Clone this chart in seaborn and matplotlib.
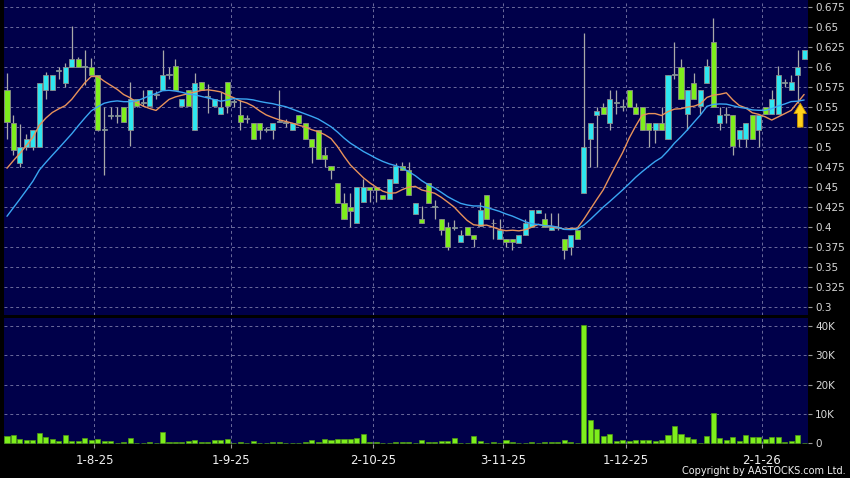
import numpy as np
import pandas as pd
import matplotlib
matplotlib.use("Agg")
import matplotlib.pyplot as plt
import seaborn as sns

# daily candles (oldest first)
open_ = [0.571, 0.530, 0.480, 0.500, 0.500, 0.500, 0.571, 0.571, 0.595, 0.580,
         0.600, 0.610, 0.600, 0.600, 0.590, 0.521, 0.539, 0.539, 0.550, 0.521,
         0.560, 0.555, 0.551, 0.565, 0.571, 0.590, 0.601, 0.551, 0.571, 0.521,
         0.581, 0.562, 0.551, 0.541, 0.581, 0.556, 0.540, 0.535, 0.530, 0.530,
         0.521, 0.521, 0.531, 0.530, 0.521, 0.540, 0.530, 0.510, 0.521, 0.490,
         0.476, 0.455, 0.430, 0.425, 0.405, 0.431, 0.450, 0.450, 0.440, 0.435,
         0.455, 0.476, 0.471, 0.416, 0.410, 0.455, 0.425, 0.410, 0.400, 0.398,
         0.381, 0.400, 0.390, 0.401, 0.440, 0.404, 0.385, 0.385, 0.385, 0.380,
         0.390, 0.400, 0.417, 0.410, 0.396, 0.398, 0.385, 0.375, 0.396, 0.442,
         0.510, 0.540, 0.550, 0.530, 0.555, 0.550, 0.571, 0.550, 0.550, 0.530,
         0.521, 0.530, 0.510, 0.590, 0.600, 0.541, 0.580, 0.551, 0.580, 0.631,
         0.530, 0.540, 0.540, 0.510, 0.510, 0.540, 0.521, 0.550, 0.541, 0.541,
         0.580, 0.571, 0.590, 0.610]
high = [0.592, 0.540, 0.529, 0.516, 0.521, 0.580, 0.593, 0.590, 0.600, 0.605,
        0.651, 0.612, 0.621, 0.611, 0.590, 0.550, 0.550, 0.550, 0.550, 0.581,
        0.560, 0.571, 0.571, 0.570, 0.621, 0.600, 0.610, 0.560, 0.571, 0.592,
        0.581, 0.579, 0.560, 0.569, 0.581, 0.560, 0.559, 0.540, 0.530, 0.530,
        0.525, 0.530, 0.571, 0.535, 0.530, 0.540, 0.530, 0.510, 0.521, 0.500,
        0.476, 0.455, 0.442, 0.442, 0.450, 0.460, 0.450, 0.450, 0.440, 0.460,
        0.480, 0.481, 0.481, 0.430, 0.426, 0.455, 0.433, 0.410, 0.406, 0.408,
        0.396, 0.400, 0.390, 0.431, 0.440, 0.410, 0.410, 0.385, 0.385, 0.390,
        0.410, 0.421, 0.421, 0.417, 0.417, 0.417, 0.385, 0.390, 0.396, 0.642,
        0.530, 0.550, 0.555, 0.571, 0.571, 0.560, 0.571, 0.555, 0.550, 0.530,
        0.530, 0.550, 0.590, 0.631, 0.610, 0.571, 0.592, 0.571, 0.610, 0.661,
        0.550, 0.550, 0.540, 0.521, 0.530, 0.540, 0.540, 0.550, 0.571, 0.601,
        0.585, 0.590, 0.621, 0.621]
low = [0.510, 0.490, 0.475, 0.496, 0.496, 0.500, 0.560, 0.571, 0.585, 0.575,
       0.600, 0.600, 0.577, 0.590, 0.520, 0.465, 0.535, 0.530, 0.531, 0.501,
       0.550, 0.551, 0.551, 0.560, 0.571, 0.585, 0.571, 0.550, 0.551, 0.521,
       0.571, 0.542, 0.550, 0.541, 0.542, 0.550, 0.521, 0.530, 0.510, 0.510,
       0.518, 0.510, 0.531, 0.525, 0.521, 0.530, 0.510, 0.480, 0.485, 0.475,
       0.460, 0.430, 0.410, 0.400, 0.405, 0.431, 0.431, 0.431, 0.435, 0.435,
       0.455, 0.471, 0.440, 0.416, 0.405, 0.430, 0.410, 0.390, 0.371, 0.396,
       0.381, 0.390, 0.375, 0.401, 0.410, 0.385, 0.385, 0.375, 0.371, 0.380,
       0.390, 0.400, 0.417, 0.400, 0.396, 0.396, 0.360, 0.365, 0.385, 0.442,
       0.475, 0.475, 0.541, 0.521, 0.541, 0.545, 0.550, 0.541, 0.521, 0.500,
       0.505, 0.521, 0.510, 0.585, 0.560, 0.521, 0.560, 0.541, 0.580, 0.550,
       0.521, 0.530, 0.490, 0.500, 0.500, 0.510, 0.500, 0.541, 0.541, 0.541,
       0.575, 0.571, 0.555, 0.610]
close = [0.531, 0.496, 0.500, 0.510, 0.521, 0.580, 0.590, 0.590, 0.596, 0.600,
         0.610, 0.600, 0.601, 0.590, 0.521, 0.521, 0.539, 0.539, 0.531, 0.560,
         0.551, 0.555, 0.571, 0.565, 0.590, 0.590, 0.571, 0.560, 0.551, 0.580,
         0.571, 0.562, 0.560, 0.550, 0.551, 0.556, 0.531, 0.535, 0.510, 0.521,
         0.521, 0.530, 0.531, 0.530, 0.530, 0.530, 0.510, 0.500, 0.485, 0.485,
         0.471, 0.430, 0.410, 0.420, 0.450, 0.450, 0.446, 0.446, 0.435, 0.460,
         0.476, 0.471, 0.440, 0.430, 0.405, 0.430, 0.425, 0.396, 0.375, 0.398,
         0.390, 0.390, 0.385, 0.421, 0.410, 0.404, 0.396, 0.381, 0.381, 0.390,
         0.405, 0.421, 0.421, 0.400, 0.400, 0.398, 0.371, 0.390, 0.385, 0.500,
         0.530, 0.545, 0.541, 0.560, 0.555, 0.550, 0.550, 0.541, 0.521, 0.521,
         0.530, 0.521, 0.590, 0.591, 0.560, 0.571, 0.560, 0.571, 0.601, 0.550,
         0.540, 0.540, 0.501, 0.521, 0.530, 0.510, 0.540, 0.541, 0.560, 0.590,
         0.580, 0.581, 0.600, 0.621]
volume = [2500, 2700, 1500, 1000, 1000, 3600, 2200, 1400, 800, 2700,
          800, 700, 1700, 1100, 1500, 700, 700, 100, 300, 1700,
          100, 200, 500, 200, 3900, 400, 400, 400, 700, 1000,
          300, 300, 1000, 1000, 1500, 100, 400, 100, 700, 100,
          100, 400, 400, 100, 100, 100, 300, 1000, 400, 1500,
          1100, 1500, 1500, 1500, 1800, 3300, 400, 400, 100, 100,
          500, 400, 300, 100, 1100, 400, 400, 900, 900, 1700,
          100, 100, 2500, 900, 100, 400, 100, 1100, 400, 100,
          200, 400, 100, 400, 400, 400, 1100, 400, 100, 40300,
          8000, 4900, 2500, 3300, 800, 1200, 800, 1000, 1000, 1000,
          800, 1200, 2900, 6000, 3300, 2100, 1500, 100, 2500, 10200,
          1800, 1200, 2300, 700, 3000, 2200, 2200, 1400, 2200, 2200,
          300, 800, 3000, 0]
# closes of the sessions just before the window (only used to start the averages)
warmup_close = [0.280, 0.285, 0.290, 0.295, 0.300, 0.400, 0.410, 0.420, 0.420, 0.430,
                0.400, 0.410, 0.410, 0.420, 0.430, 0.500, 0.520, 0.550, 0.560]

# first session of each month and its label
month_start = [14, 35, 57, 77, 96, 117]
month_labels = ["1-8-25", "1-9-25", "2-10-25", "3-11-25", "1-12-25", "2-1-26"]
price_ticks = [0.3, 0.325, 0.35, 0.375, 0.4, 0.425, 0.45, 0.475, 0.5, 0.525,
               0.55, 0.575, 0.6, 0.625, 0.65, 0.675]
price_labels = ["0.3", "0.325", "0.35", "0.375", "0.4", "0.425", "0.45", "0.475",
                "0.5", "0.525", "0.55", "0.575", "0.6", "0.625", "0.65", "0.675"]
vol_ticks = [0, 10000, 20000, 30000, 40000]
vol_labels = ["0", "10K", "20K", "30K", "40K"]

NAVY = "#00004a"
UP = "#2ee6f0"
DOWN = "#7eee1c"
GRID = "#6b6b9c"
TXT = "#d8d8d8"

df = pd.DataFrame({"open": open_, "high": high, "low": low,
                   "close": close, "volume": volume})
df["idx"] = np.arange(len(df))
allc = pd.Series(warmup_close + close)
df["ma10"] = allc.rolling(10).mean().iloc[len(warmup_close):].values
df["ma20"] = allc.rolling(20).mean().iloc[len(warmup_close):].values

sns.set_style("dark")
plt.rcParams["font.family"] = ["DejaVu Sans"]

fig = plt.figure(figsize=(8.5, 4.78), dpi=100, facecolor="black")
ax = fig.add_axes([4 / 850, 1 - 315 / 478, 804 / 850, 315 / 478])
axv = fig.add_axes([4 / 850, 1 - 444 / 478, 804 / 850, 125.7 / 478])

for a in (ax, axv):
    a.set_facecolor(NAVY)
    for s in a.spines.values():
        s.set_visible(False)
    for m in month_start:
        a.axvline(m - 0.5, color=GRID, lw=0.7, ls=(0, (3, 3)), zorder=0)

for t in price_ticks:
    ax.axhline(t, color=GRID, lw=0.7, ls=(0, (3, 3)), zorder=0)
for t in vol_ticks[1:]:
    axv.axhline(t, color=GRID, lw=0.7, ls=(0, (3, 3)), zorder=0)

# candles
up = df["close"] >= df["open"]
colors = np.where(up, UP, DOWN)
body_lo = df[["open", "close"]].min(axis=1)
body_h = (df["close"] - df["open"]).abs().clip(lower=0.0012)
ax.vlines(df["idx"], df["low"], df["high"], color="#a8a8a8", lw=0.9, zorder=2)
ax.bar(df["idx"], body_h, bottom=body_lo, width=0.78, color=colors,
       edgecolor="#8c8c8c", linewidth=0.6, zorder=3)

# moving averages
sns.lineplot(data=df, x="idx", y="ma10", ax=ax, color="#e8925a", lw=1.0, zorder=4)
sns.lineplot(data=df, x="idx", y="ma20", ax=ax, color="#3aa6f2", lw=1.0, zorder=4)

ax.annotate("", xy=(122.4, 0.558), xytext=(122.4, 0.521),
            arrowprops=dict(arrowstyle="simple,head_width=0.9,head_length=0.75,tail_width=0.4",
                            fc="#ffd21a", ec="#c89000", lw=0.6), zorder=6)

# volume
sns.barplot(data=df, x="idx", y="volume", native_scale=True, ax=axv,
            color=DOWN, saturation=1, width=0.78, edgecolor="#4f9a12",
            linewidth=0.5, zorder=3)

ax.set_xlim(-0.46, 123.6)
axv.set_xlim(-0.46, 123.6)
ax.set_ylim(0.2896, 0.6834)
axv.set_ylim(-240, 42660)

ax.yaxis.tick_right()
ax.set_yticks(price_ticks)
ax.set_yticklabels(price_labels)
ax.set_xticks([])
axv.yaxis.tick_right()
axv.set_yticks(vol_ticks)
axv.set_yticklabels(vol_labels)
axv.set_xticks([m - 0.5 for m in month_start])
axv.set_xticklabels(month_labels)
for a in (ax, axv):
    a.tick_params(axis="y", which="both", direction="out", length=3, width=0.8,
                  color="#9a9a9a", labelcolor=TXT, labelsize=7.5, pad=2, right=True, left=False)
    a.set_xlabel("")
    a.set_ylabel("")
axv.tick_params(axis="x", direction="out", length=3, width=0.8, color="#9a9a9a",
                labelcolor="#f0f0f0", labelsize=8.5, pad=4, bottom=True)
ax.grid(False)
axv.grid(False)

fig.text(0.995, 0.004, "Copyright by AASTOCKS.com Ltd.", ha="right", va="bottom",
         color="#f0f0f0", fontsize=7)

fig.savefig("out.png", dpi=100, facecolor="black")
